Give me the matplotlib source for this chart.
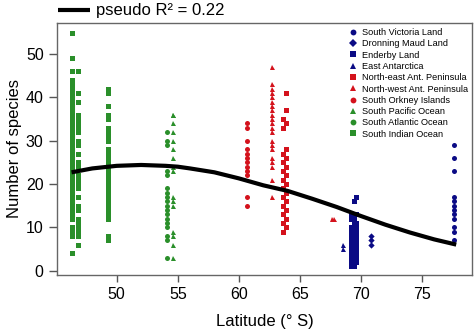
import matplotlib
matplotlib.use("Agg")
import matplotlib.pyplot as plt
from matplotlib.lines import Line2D

plt.rcParams['font.family'] = ['Liberation Sans', 'DejaVu Sans']

# species counts per site, grouped by region (latitude in degrees south)
indian_lat = [46.35] * 40 + [46.8] * 26 + [49.3] * 28
indian_n = [4, 8, 9, 10, 12, 13, 14, 15, 16, 17, 18, 19, 20, 21, 22, 23, 24, 25, 26, 27,
            28, 29, 30, 31, 32, 33, 34, 35, 36, 37, 38, 39, 40, 41, 42, 43, 44, 46, 49, 55,
            6, 8, 9, 10, 11, 12, 14, 15, 17, 19, 20, 21, 22, 24, 25, 27, 29, 30, 32, 33,
            34, 35, 36, 39, 41, 46,
            7, 8, 12, 13, 14, 15, 16, 17, 18, 19, 20, 21, 22, 23, 24, 25, 26, 27, 28, 30,
            31, 32, 33, 35, 36, 38, 41, 42]
atlantic_lat = [54.15] * 18
atlantic_n = [3, 7, 8, 10, 11, 12, 13, 14, 15, 16, 17, 18, 19, 22, 23, 29, 30, 32]
pacific_lat = [54.6] * 16
pacific_n = [3, 6, 8, 9, 15, 16, 17, 23, 24, 26, 28, 30, 32, 34, 36, 36]
orkney_lat = [60.65] * 12
orkney_n = [15, 17, 22, 23, 24, 25, 26, 27, 28, 30, 33, 34]
nw_lat = [62.7] * 21 + [67.6, 67.8]
nw_n = [17, 21, 24, 25, 26, 28, 29, 30, 32, 33, 34, 35, 36, 37, 38, 39, 40, 41, 42, 43, 47,
        12, 12]
ne_lat = [63.65, 63.9] * 12 + [63.9]
ne_n = [9, 10, 11, 12, 13, 14, 15, 16, 17, 18, 19, 20, 21, 22, 23, 24, 25, 26, 27, 28,
        33, 34, 35, 37, 41]
east_lat = [68.5, 68.5]
east_n = [5, 6]
enderby_lat = [69.2, 69.4, 69.6] * 12
enderby_n = [1, 1, 2, 2, 2, 3, 3, 3, 4, 4, 4, 5, 5, 5, 6, 6, 6, 7, 7, 7, 8, 8, 8, 9,
             9, 9, 10, 10, 11, 11, 12, 12, 13, 13, 16, 17]
dronning_lat = [70.85] * 3
dronning_n = [6, 7, 8]
victoria_lat = [77.6] * 12
victoria_n = [7, 9, 10, 12, 13, 14, 15, 16, 17, 23, 26, 29]

# fitted richness curve
fit_lat = [46.3, 48, 50, 52, 54, 55, 56, 58, 60, 62, 64, 66, 68, 70, 72, 74, 76, 77.8]
fit_n = [22.7, 23.6, 24.2, 24.4, 24.2, 24.0, 23.6, 22.7, 21.3, 19.7, 18.4, 16.6, 14.7,
         12.6, 10.6, 8.8, 7.2, 6.0]

navy = '#0b0b85'
red = '#d4121c'
green = '#2a8f2a'

groups = [
    (victoria_lat, victoria_n, navy, 'o', 'South Victoria Land'),
    (dronning_lat, dronning_n, navy, 'D', 'Dronning Maud Land'),
    (enderby_lat, enderby_n, navy, 's', 'Enderby Land'),
    (east_lat, east_n, navy, '^', 'East Antarctica'),
    (ne_lat, ne_n, red, 's', 'North-east Ant. Peninsula'),
    (nw_lat, nw_n, red, '^', 'North-west Ant. Peninsula'),
    (orkney_lat, orkney_n, red, 'o', 'South Orkney Islands'),
    (pacific_lat, pacific_n, green, '^', 'South Pacific Ocean'),
    (atlantic_lat, atlantic_n, green, 'o', 'South Atlantic Ocean'),
    (indian_lat, indian_n, green, 's', 'South Indian Ocean'),
]

fig = plt.figure(figsize=(4.74, 3.32), dpi=100)
ax = fig.add_axes([0.120, 0.172, 0.876, 0.760])

handles = []
for lat, n, col, mk, name in groups:
    size = 3.6 if mk != 'D' else 3.2
    ax.plot(lat, n, linestyle='none', marker=mk, color=col, markersize=size,
            markeredgewidth=0)
    handles.append(Line2D([], [], linestyle='none', marker=mk, color=col,
                          markersize=4.2, markeredgewidth=0, label=name))

curve, = ax.plot(fit_lat, fit_n, color='black', linewidth=3, solid_capstyle='butt')

ax.set_xlim(45.1, 79.1)
ax.set_ylim(-1, 57.3)
ax.set_xticks([50, 55, 60, 65, 70, 75])
ax.set_yticks([0, 10, 20, 30, 40, 50])
ax.tick_params(labelsize=11.5, color='#555555', length=5, width=1)
ax.tick_params(axis='y', length=6)
for s in ax.spines.values():
    s.set_color('#666666')
    s.set_linewidth(1)
ax.set_xlabel('Latitude (° S)', fontsize=12, labelpad=9)
ax.set_ylabel('Number of species', fontsize=12, labelpad=3)

ax.legend(handles=handles, loc='upper left', bbox_to_anchor=(0.692, 1.0),
          frameon=False, fontsize=6.6, handlelength=0.8, handletextpad=0.5,
          labelspacing=0.25, borderaxespad=0.2)

fig.legend([curve], ['pseudo R² = 0.22'], loc='upper left',
           bbox_to_anchor=(0.091, 1.035), frameon=False, fontsize=12,
           handlelength=1.9, handletextpad=0.4)

fig.savefig('out.png', dpi=100)
